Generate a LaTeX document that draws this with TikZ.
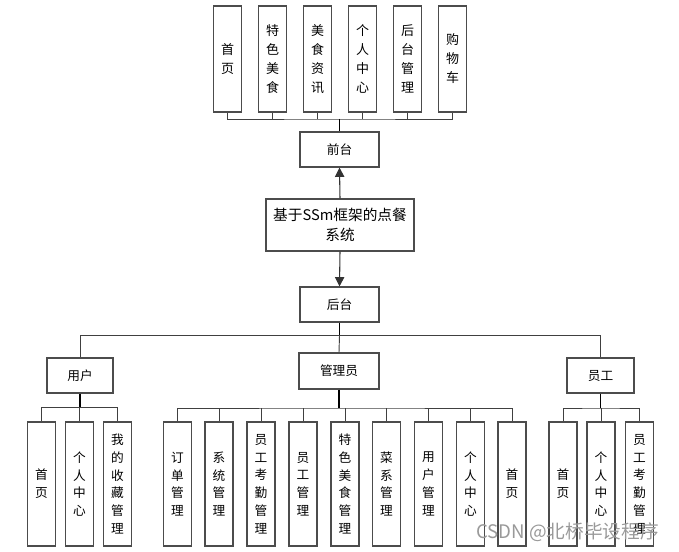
\documentclass[tikz,border=0pt]{standalone}
\usepackage{fontspec}
\newfontfamily\cjk{Noto Sans CJK SC}
\usetikzlibrary{arrows.meta}
\tikzset{
  box/.style={rectangle, draw=black!70, line width=0.9pt, fill=white, inner sep=0pt, align=center},
  topbox/.style={box, minimum width=21.5pt, text width=10pt, minimum height=79.5pt, font=\cjk\fontsize{9.75}{14.25}\selectfont},
  leafbox/.style={box, minimum width=21pt, text width=10pt, minimum height=93pt, font=\cjk\fontsize{9.5}{13.3}\selectfont},
  wbox/.style={box, minimum height=26.25pt, font=\cjk\fontsize{9.5}{14}\selectfont},
  link/.style={draw=black!75, line width=0.7pt},
  trunk/.style={draw=black, line width=1.3pt},
  flow/.style={draw=black!80, line width=0.8pt, -{Triangle[length=7pt, width=7pt]}}
}
\begin{document}
\begin{tikzpicture}[x=0.75pt, y=-0.75pt]
  \useasboundingbox (0,0) rectangle (679,552);
  % front end
  \node[topbox] (t1) at (227.5,59) {首\\页};
  \node[topbox] (t2) at (272.5,59) {特\\色\\美\\食};
  \node[topbox] (t3) at (317.5,59) {美\\食\\资\\讯};
  \node[topbox] (t4) at (362.5,59) {个\\人\\中\\心};
  \node[topbox] (t5) at (407.5,59) {后\\台\\管\\理};
  \node[topbox] (t6) at (452.5,59) {购\\物\\车};
  \node[wbox, minimum width=59.25pt] (front) at (339.5,149.5) {前台};
  \coordinate (topbus) at (339.5,119);
  \draw[link] (t1.south) |- (topbus) -| (t6.south);
  \draw[link] (t2.south) -- (t2.south |- topbus);
  \draw[link] (t3.south) -- (t3.south |- topbus);
  \draw[link] (t4.south) -- (t4.south |- topbus);
  \draw[link] (t5.south) -- (t5.south |- topbus);
  \draw[trunk] (topbus) -- (front.north);
  % system
  \node[wbox, minimum width=111pt, minimum height=39pt, font=\cjk\fontsize{11}{15.5}\selectfont] (sys) at (340,225) {基于SSm框架的点餐\\系统};
  \node[wbox, minimum width=59.25pt] (back) at (339.5,304.5) {后台};
  \draw[flow] (sys.north) -- (front.south);
  \draw[flow] (sys.south) -- (back.north);
  % back end
  \node[wbox, minimum width=49.5pt] (user) at (80,375.5) {用户};
  \node[wbox, minimum width=60pt, minimum height=27pt] (admin) at (339,371) {管理员};
  \node[wbox, minimum width=50.25pt] (staff) at (600.5,375.5) {员工};
  \coordinate (midbus) at (339.5,335.5);
  \draw[trunk] (back.south) -- (midbus);
  \draw[link] (user.north) |- (midbus) -| (staff.north);
  \draw[link] (midbus) -- (admin.north);
  % user
  \node[leafbox] (u1) at (41.5,484) {首\\页};
  \node[leafbox] (u2) at (79.5,484) {个\\人\\中\\心};
  \node[leafbox] (u3) at (117.5,484) {我\\的\\收\\藏\\管\\理};
  \coordinate (ubus) at (80,407.5);
  \draw[trunk] (user.south) -- (ubus);
  \draw[link] (u1.north) |- (ubus) -| (u3.north);
  \draw[link] (u2.north) -- (u2.north |- ubus);
  % admin
  \node[leafbox] (a1) at (177.5,484) {订\\单\\管\\理};
  \node[leafbox] (a2) at (219,484) {系\\统\\管\\理};
  \node[leafbox] (a3) at (261,484) {员\\工\\考\\勤\\管\\理};
  \node[leafbox] (a4) at (303,484) {员\\工\\管\\理};
  \node[leafbox] (a5) at (345,484) {特\\色\\美\\食\\管\\理};
  \node[leafbox] (a6) at (386.5,484) {菜\\系\\管\\理};
  \node[leafbox] (a7) at (428.5,484) {用\\户\\管\\理};
  \node[leafbox] (a8) at (470.5,484) {个\\人\\中\\心};
  \node[leafbox] (a9) at (512,484) {首\\页};
  \coordinate (abus) at (339,408);
  \draw[trunk] (admin.south) -- (abus);
  \draw[link] (a1.north) |- (abus) -| (a9.north);
  \draw[link] (a2.north) -- (a2.north |- abus);
  \draw[link] (a3.north) -- (a3.north |- abus);
  \draw[link] (a4.north) -- (a4.north |- abus);
  \draw[link] (a5.north) -- (a5.north |- abus);
  \draw[link] (a6.north) -- (a6.north |- abus);
  \draw[link] (a7.north) -- (a7.north |- abus);
  \draw[link] (a8.north) -- (a8.north |- abus);
  % staff
  \node[leafbox] (s1) at (563,484) {首\\页};
  \node[leafbox] (s2) at (601,484) {个\\人\\中\\心};
  \node[leafbox] (s3) at (639.5,484) {员\\工\\考\\勤\\管\\理};
  \coordinate (sbus) at (600.5,408);
  \draw[trunk] (staff.south) -- (sbus);
  \draw[link] (s1.north) |- (sbus) -| (s3.north);
  \draw[link] (s2.north) -- (s2.north |- sbus);
  % watermark
  \node[font=\cjk\fontsize{14}{14}\selectfont, text=black!40] (mark) at (567.5,532) {CSDN @北桥毕设程序};
\end{tikzpicture}
\end{document}
